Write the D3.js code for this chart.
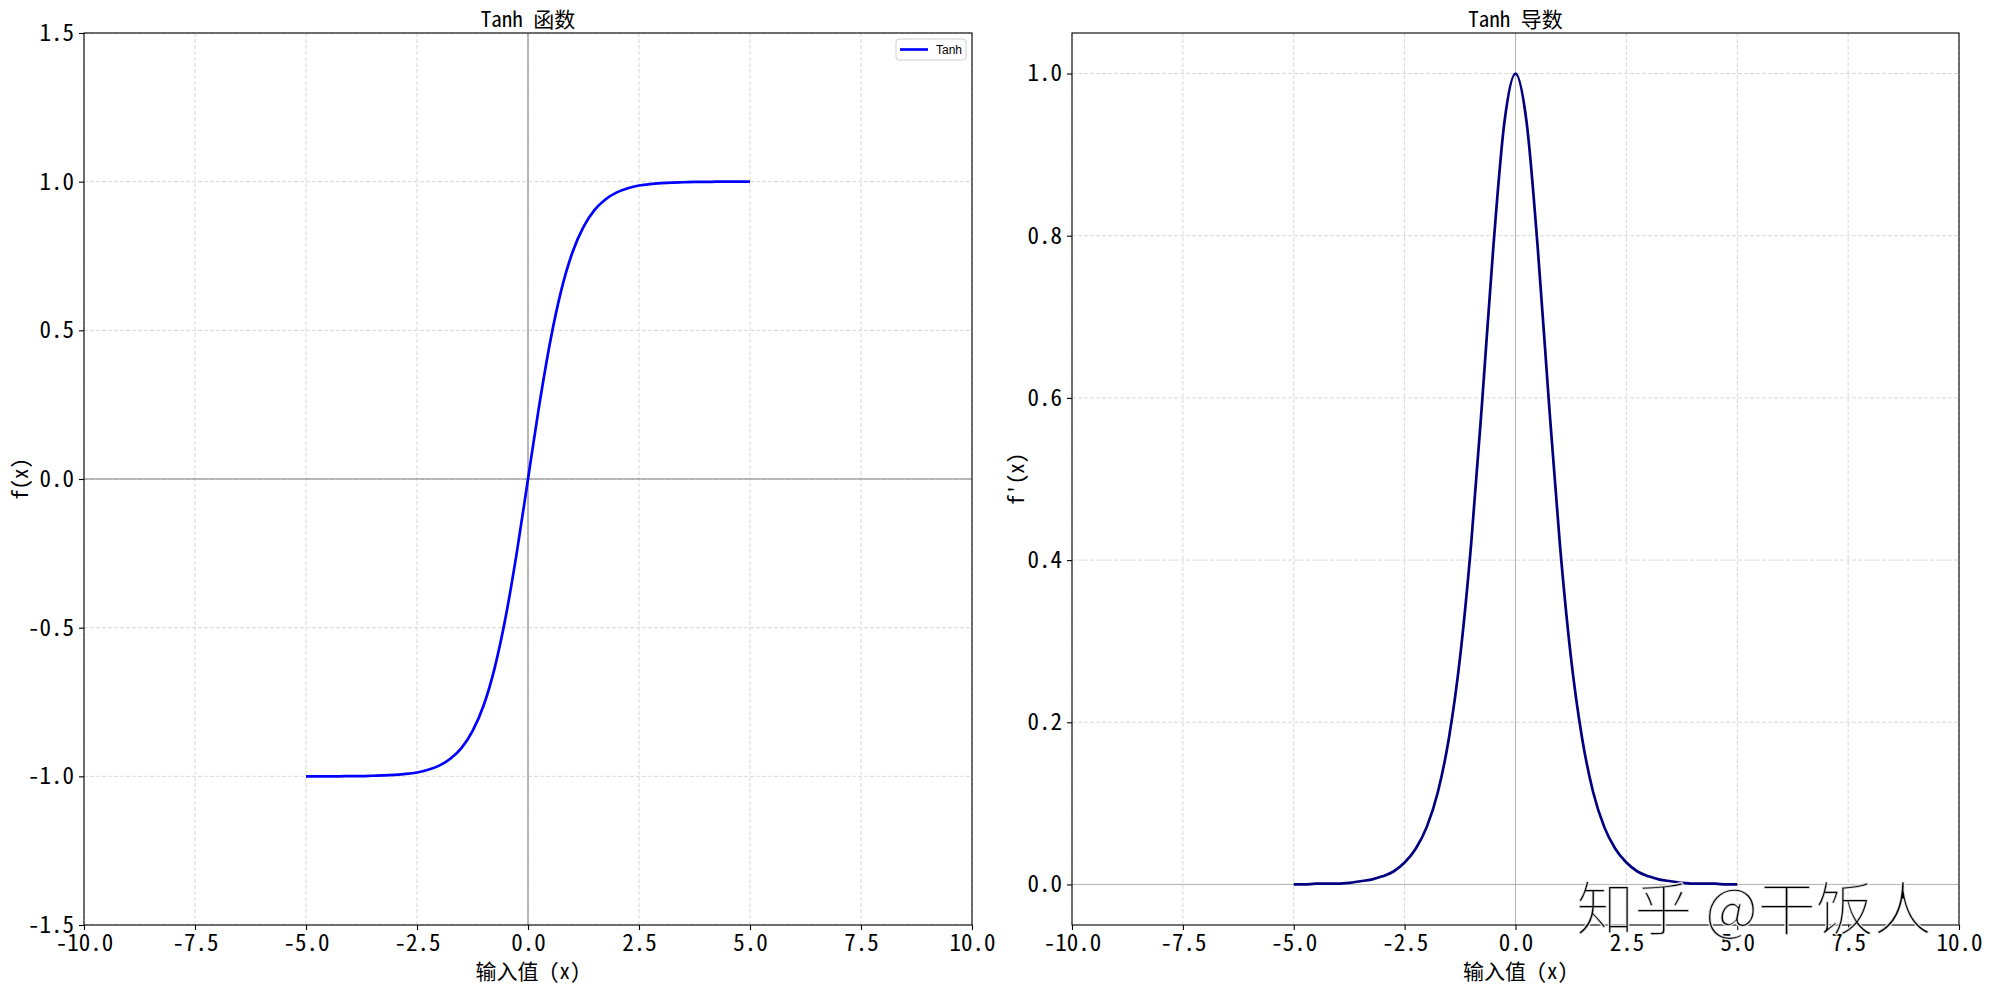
<!DOCTYPE html>
<html>
<head>
<meta charset="utf-8">
<script src="https://cdn.jsdelivr.net/npm/d3@7"></script>
<style>
  body { margin: 0; background: #fff; }
  svg text { font-family: "Noto Sans Mono CJK SC", "DejaVu Sans Mono", "Noto Sans CJK SC", monospace; fill: #000; }
</style>
</head>
<body>
<div id="chart"></div>
<script>
// x samples (both curves run from -5 to 5)
const xValues = [-5, -4.75, -4.5, -4.25, -4, -3.75, -3.5, -3.25, -3, -2.75, -2.5, -2.25, -2, -1.75, -1.5, -1.25, -1, -0.75, -0.5, -0.25,
  0, 0.25, 0.5, 0.75, 1, 1.25, 1.5, 1.75, 2, 2.25, 2.5, 2.75, 3, 3.25, 3.5, 3.75, 4, 4.25, 4.5, 4.75, 5];

const tanhValues = [-1.000, -1.000, -1.000, -1.000, -0.999, -0.999, -0.998, -0.997, -0.995, -0.992, -0.987, -0.978, -0.964, -0.941, -0.905, -0.848, -0.762, -0.635, -0.462, -0.245,
  0.000, 0.245, 0.462, 0.635, 0.762, 0.848, 0.905, 0.941, 0.964, 0.978, 0.987, 0.992, 0.995, 0.997, 0.998, 0.999, 0.999, 1.000, 1.000, 1.000, 1.000];

const derivValues = [0.000, 0.000, 0.001, 0.001, 0.001, 0.002, 0.004, 0.006, 0.010, 0.016, 0.027, 0.044, 0.071, 0.114, 0.181, 0.280, 0.420, 0.597, 0.786, 0.940,
  1.000, 0.940, 0.786, 0.597, 0.420, 0.280, 0.181, 0.114, 0.071, 0.044, 0.027, 0.016, 0.010, 0.006, 0.004, 0.002, 0.001, 0.001, 0.001, 0.000, 0.000];

const xTicks = [-10, -7.5, -5, -2.5, 0, 2.5, 5, 7.5, 10];
const yTicksLeft = [-1.5, -1, -0.5, 0, 0.5, 1, 1.5];
const yTicksRight = [0, 0.2, 0.4, 0.6, 0.8, 1.0];

const width = 1990;
const height = 989;

const svg = d3.select("#chart")
  .append("svg")
  .attr("width", width)
  .attr("height", height)
  .style("background", "#fff");

const fmt = d => d3.format(".1f")(d).replace("−", "-");

function drawPanel(opt) {
  const x = d3.scaleLinear().domain([-10, 10]).range([opt.left, opt.right]);
  const y = d3.scaleLinear().domain(opt.yDomain).range([opt.bottom, opt.top]);
  const g = svg.append("g");

  // grid
  g.append("g").selectAll("line")
    .data(xTicks)
    .enter().append("line")
    .attr("x1", d => x(d)).attr("x2", d => x(d))
    .attr("y1", opt.top).attr("y2", opt.bottom)
    .attr("stroke", "#d9d9d9").attr("stroke-width", 1)
    .attr("stroke-dasharray", "4,2");
  g.append("g").selectAll("line")
    .data(opt.yTicks)
    .enter().append("line")
    .attr("x1", opt.left).attr("x2", opt.right)
    .attr("y1", d => y(d)).attr("y2", d => y(d))
    .attr("stroke", "#d9d9d9").attr("stroke-width", 1)
    .attr("stroke-dasharray", "4,2");

  // zero lines
  g.append("line")
    .attr("x1", opt.left).attr("x2", opt.right)
    .attr("y1", y(0)).attr("y2", y(0))
    .attr("stroke", opt.zeroColor).attr("stroke-width", 1);
  g.append("line")
    .attr("x1", x(0)).attr("x2", x(0))
    .attr("y1", opt.top).attr("y2", opt.bottom)
    .attr("stroke", opt.zeroColor).attr("stroke-width", 1);

  // curve
  const line = d3.line()
    .x((d, i) => x(xValues[i]))
    .y(d => y(d))
    .curve(d3.curveMonotoneX);
  g.append("path")
    .datum(opt.values)
    .attr("d", line)
    .attr("fill", "none")
    .attr("stroke", opt.color)
    .attr("stroke-width", 2.7);

  // axes
  const xAxis = d3.axisBottom(x).tickValues(xTicks).tickFormat(fmt).tickSizeOuter(0).tickSize(5).tickPadding(5);
  const yAxis = d3.axisLeft(y).tickValues(opt.yTicks).tickFormat(fmt).tickSizeOuter(0).tickSize(5).tickPadding(5);

  const gx = g.append("g").attr("transform", `translate(0,${opt.bottom})`).call(xAxis);
  const gy = g.append("g").attr("transform", `translate(${opt.left},0)`).call(yAxis);
  [gx, gy].forEach(a => {
    a.select(".domain").remove();
    a.selectAll(".tick line").attr("stroke", "#000").attr("stroke-width", 1.1);
    a.selectAll(".tick text").attr("font-size", 23).attr("fill", "#000")
      .style("font-family", '"Noto Sans Mono CJK SC", "DejaVu Sans Mono", monospace');
  });

  // frame
  g.append("rect")
    .attr("x", opt.left).attr("y", opt.top)
    .attr("width", opt.right - opt.left).attr("height", opt.bottom - opt.top)
    .attr("fill", "none").attr("stroke", "#000").attr("stroke-width", 1.1);

  // title and labels
  const cx = (opt.left + opt.right) / 2;
  g.append("text").attr("x", cx).attr("y", 27)
    .attr("text-anchor", "middle").attr("font-size", 21).text(opt.title);
  g.append("text").attr("x", cx).attr("y", 979)
    .attr("text-anchor", "middle").attr("font-size", 21).text("输入值 (x)");
  g.append("text")
    .attr("transform", `translate(${opt.left - opt.yLabelGap},${(opt.top + opt.bottom) / 2}) rotate(-90)`)
    .attr("text-anchor", "middle").attr("font-size", 21).text(opt.yLabel);

  return { x, y, g };
}

drawPanel({
  left: 84, right: 972, top: 33, bottom: 925,
  yDomain: [-1.5, 1.5], yTicks: yTicksLeft,
  values: tanhValues, color: "#0000ff", zeroColor: "#7a7a7a",
  title: "Tanh 函数", yLabel: "f(x)", yLabelGap: 56
});

drawPanel({
  left: 1072, right: 1959, top: 33, bottom: 925,
  yDomain: [-0.05, 1.05], yTicks: yTicksRight,
  values: derivValues, color: "#000080", zeroColor: "#b3b3b3",
  title: "Tanh 导数", yLabel: "f'(x)", yLabelGap: 48
});

// legend on the left panel
const legend = svg.append("g").attr("transform", "translate(896,39)");
legend.append("rect")
  .attr("width", 70).attr("height", 21).attr("rx", 3)
  .attr("fill", "#fff").attr("fill-opacity", 0.8)
  .attr("stroke", "#d0d0d0").attr("stroke-width", 1);
legend.append("line")
  .attr("x1", 4).attr("x2", 32).attr("y1", 10.5).attr("y2", 10.5)
  .attr("stroke", "#0000ff").attr("stroke-width", 2.7);
legend.append("text")
  .attr("x", 40).attr("y", 15)
  .attr("font-size", 12)
  .style("font-family", '"Liberation Sans", Arial, sans-serif')
  .text("Tanh");

// watermark
svg.append("text")
  .attr("x", 1754).attr("y", 930)
  .attr("text-anchor", "middle")
  .attr("font-size", 58)
  .style("font-family", '"Noto Sans CJK SC", sans-serif')
  .style("font-weight", 300)
  .attr("fill", "#b0b0b0")
  .attr("stroke", "#ffffff")
  .attr("stroke-width", 1.5)
  .attr("stroke-opacity", 0.8)
  .text("知乎 @干饭人");
</script>
</body>
</html>
